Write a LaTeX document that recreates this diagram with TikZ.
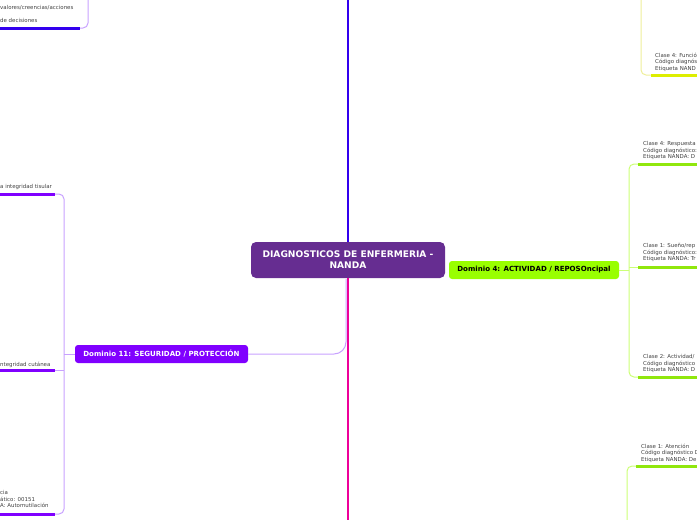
\documentclass[tikz,border=0pt]{standalone}
\usepackage{fontspec}
\setmainfont{DejaVu Sans}
\definecolor{cCentral}{HTML}{662D91}
\definecolor{cBlue}{HTML}{3300EE}
\definecolor{cMag}{HTML}{EE0099}
\definecolor{cViolet}{HTML}{8000FF}
\definecolor{cLav}{HTML}{C8A2FF}
\definecolor{cLime}{HTML}{99FF00}
\definecolor{cLimeLine}{HTML}{CCFF77}
\definecolor{cYel}{HTML}{DDEE00}
\definecolor{cYelLine}{HTML}{EEEE99}
\definecolor{cText}{HTML}{404040}
\tikzset{
  centralbox/.style={fill=cCentral, rounded corners=5pt, text=white, align=center,
    font=\bfseries\fontsize{9.1}{11}\selectfont, minimum width=194pt, minimum height=36pt, inner sep=0pt},
  domainbox/.style={rounded corners=3pt, font=\bfseries\fontsize{7.05}{8}\selectfont,
    minimum height=18pt, inner sep=0pt},
  leaf/.style={font=\fontsize{5.45}{6.5}\selectfont, text=cText, align=left, anchor=north west, inner sep=0pt},
  uline/.style={line width=3pt},
  thin/.style={line width=1pt, rounded corners=5pt},
}
\begin{document}
\begin{tikzpicture}[x=1pt,y=-1pt]
\useasboundingbox (0,0) rectangle (697,520);
% central
\node[centralbox] (center) at (348,260) {DIAGNOSTICOS DE ENFERMERIA -\\NANDA};
\coordinate (topEnd) at (348,0);
\coordinate (botEnd) at (348,520);
\draw[cBlue, line width=2.5pt] (center.north) -- (topEnd);
\draw[cMag, line width=2.5pt] (center.south) -- (botEnd);

% Dominio 11
\node[domainbox, fill=cViolet, text=white, minimum width=173pt] (d11) at (161.5,354) {Dominio 11: SEGURIDAD / PROTECCIÓN};
\coordinate (lavTop) at (346,279);
\draw[cLav, line width=1pt, rounded corners=12pt] (lavTop) |- (d11.east);
\coordinate (brk) at (64,354);
\draw[cLav, line width=1pt] (d11.west) -- (brk);

\coordinate (u1a) at (0,194); \coordinate (u1b) at (55,194);
\coordinate (u2a) at (0,370); \coordinate (u2b) at (55,370);
\coordinate (u3a) at (0,514); \coordinate (u3b) at (55,514);
\draw[cViolet, uline] (u1a) -- (u1b);
\draw[cViolet, uline] (u2a) -- (u2b);
\draw[cViolet, uline] (u3a) -- (u3b);
\draw[cLav, thin] (u1b) -| (brk);
\draw[cLav, thin] (u3b) -| (brk);
\draw[cLav, line width=1pt] (u2b) -- (64,370);
\node[leaf] (t1) at (0,184.5) {a integridad tisular};
\node[leaf] (t2) at (0,361.5) {ntegridad cutánea};
\node[leaf] (t3) at (0,490.5) {cia\\ático: 00151\\A: Automutilación};

% top-left
\coordinate (u0a) at (0,28); \coordinate (u0b) at (80,28);
\coordinate (v0) at (88,0);
\draw[cBlue, uline] (u0a) -- (u0b);
\draw[cLav, thin] (u0b) -| (v0);
\node[leaf] (t0a) at (0,5.5) {valores/creencias/acciones};
\node[leaf] (t0b) at (0,18.5) {de decisiones};

% Dominio 4
\node[domainbox, fill=cLime, text=black, minimum width=170pt] (d4) at (534,270) {Dominio 4: ACTIVIDAD / REPOSOncipal};
\coordinate (rb) at (629,270);
\draw[cLimeLine, line width=1pt] (d4.east) -- (rb);
\coordinate (r1a) at (638,164); \coordinate (r1b) at (697,164);
\coordinate (r2a) at (638,267); \coordinate (r2b) at (697,267);
\coordinate (r3a) at (638,377); \coordinate (r3b) at (697,377);
\draw[cLimeLine, thin] (r1a) -| (rb);
\draw[cLimeLine, thin] (r3a) -| (rb);
\draw[cLimeLine, line width=1pt] (r2a) -- (629,267);
\draw[cLime!90!black!95, uline] (r1a) -- (r1b);
\draw[cLime!90!black!95, uline] (r2a) -- (r2b);
\draw[cLime!90!black!95, uline] (r3a) -- (r3b);
\node[leaf] (s1) at (643,141.5) {Clase 4: Respuesta\\Código diagnóstico:\\Etiqueta NANDA: D};
\node[leaf] (s2) at (643,243.5) {Clase 1: Sueño/rep\\Código diagnóstico:\\Etiqueta NANDA: Tr};
\node[leaf] (s3) at (643,354.5) {Clase 2: Actividad/\\Código diagnóstico\\Etiqueta NANDA: D};

% top-right
\coordinate (y1a) at (651,75); \coordinate (y1b) at (697,75);
\coordinate (yv) at (641,0);
\draw[cYelLine, thin] (y1a) -| (yv);
\draw[cYel, uline] (y1a) -- (y1b);
\node[leaf] (s0) at (655,52.5) {Clase 4: Funció\\Código diagnós\\Etiqueta NAND};

% bottom-right
\coordinate (b1a) at (636,466); \coordinate (b1b) at (697,466);
\coordinate (bv) at (627,520);
\draw[cLimeLine, thin] (b1a) -| (bv);
\draw[cLime!90!black!95, uline] (b1a) -- (b1b);
\node[leaf] (s4) at (641,443.5) {Clase 1: Atención\\Código diagnóstico D\\Etiqueta NANDA: De};
\end{tikzpicture}
\end{document}
